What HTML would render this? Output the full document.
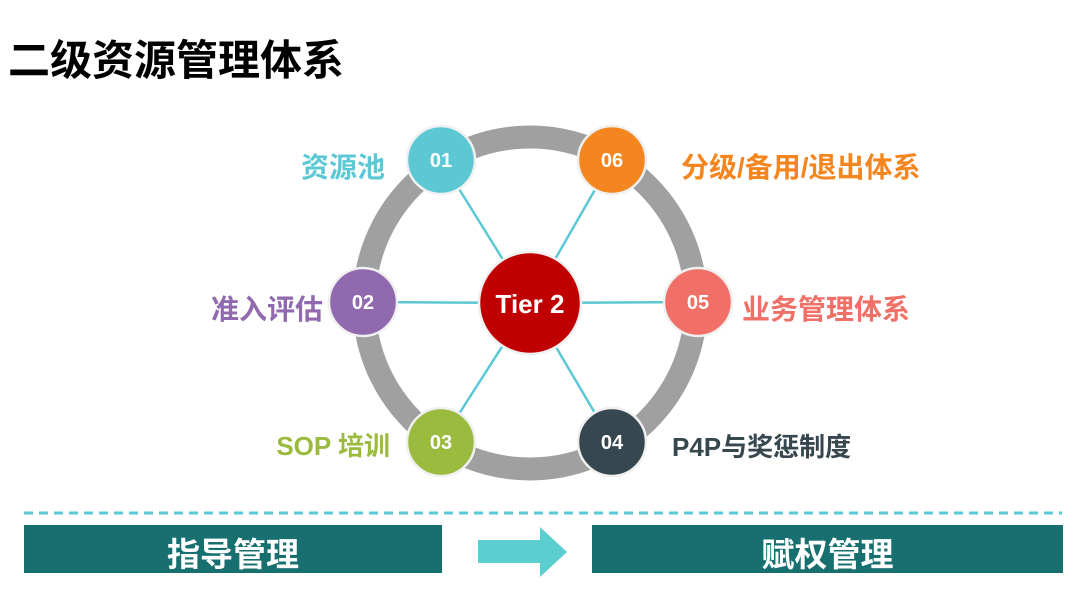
<!DOCTYPE html>
<html><head><meta charset="utf-8"><style>
body{margin:0;width:1080px;height:591px;background:#fff;overflow:hidden;position:relative;font-family:"Liberation Sans","Noto Sans CJK SC",sans-serif}
.t{position:absolute;font-weight:bold;white-space:nowrap}
</style></head><body>
<div class="t" style="left:8px;top:27px;font-size:42px;color:#000">二级资源管理体系</div>
<svg width="1080" height="591" style="position:absolute;left:0;top:0">
<circle cx="530" cy="303" r="166" fill="none" stroke="#a0a0a0" stroke-width="23"/>
<g stroke="#5bc8d4" stroke-width="2.5">
<line x1="530" y1="303" x2="441" y2="160"/><line x1="530" y1="303" x2="612" y2="160"/>
<line x1="530" y1="303" x2="363" y2="302"/><line x1="530" y1="303" x2="698" y2="302"/>
<line x1="530" y1="303" x2="441" y2="442"/><line x1="530" y1="303" x2="612" y2="442"/>
</g>
<g stroke="#f0f0f0" stroke-width="2.5">
<circle cx="441" cy="160" r="34" fill="#5bc8d4"/>
<circle cx="612" cy="160" r="34" fill="#f5861f"/>
<circle cx="363" cy="302" r="34" fill="#9169ae"/>
<circle cx="698" cy="302" r="34" fill="#f07067"/>
<circle cx="441" cy="442" r="34" fill="#9bbb3f"/>
<circle cx="612" cy="442" r="34" fill="#37474f"/>
<circle cx="530" cy="303" r="51" fill="#c00000"/>
</g>
<g fill="#fff" font-family="Liberation Sans" font-weight="bold" font-size="20" text-anchor="middle">
<text x="441" y="167">01</text><text x="612" y="167">06</text>
<text x="363" y="309">02</text><text x="698" y="309">05</text>
<text x="441" y="449">03</text><text x="612" y="449">04</text>
<text x="530" y="313" font-size="26">Tier 2</text>
</g>
<line x1="24" y1="513" x2="1062" y2="513" stroke="#5bc8d4" stroke-width="3" stroke-dasharray="9,6"/>
<rect x="24" y="525" width="418" height="48" fill="#17706f"/>
<rect x="592" y="525" width="471" height="48" fill="#17706f"/>
<polygon points="478,540 540,540 540,527 567,552 540,577 540,563 478,563" fill="#5bcfcf"/>
</svg>
<div class="t" style="right:695px;top:146px;font-size:28px;color:#5bc8d4">资源池</div>
<div class="t" style="left:681px;top:146px;font-size:28px;color:#f5861f">分级/备用/退出体系</div>
<div class="t" style="right:757px;top:288px;font-size:28px;color:#9169ae">准入评估</div>
<div class="t" style="left:742px;top:288px;font-size:28px;color:#f07067">业务管理体系</div>
<div class="t" style="right:690px;top:426px;font-size:26px;color:#9bbb3f">SOP 培训</div>
<div class="t" style="left:672px;top:427px;font-size:26px;color:#37474f">P4P与奖惩制度</div>
<div class="t" style="left:24px;width:418px;top:528px;font-size:33px;color:#fff;text-align:center">指导管理</div>
<div class="t" style="left:592px;width:471px;top:528px;font-size:33px;color:#fff;text-align:center">赋权管理</div>
</body></html>
